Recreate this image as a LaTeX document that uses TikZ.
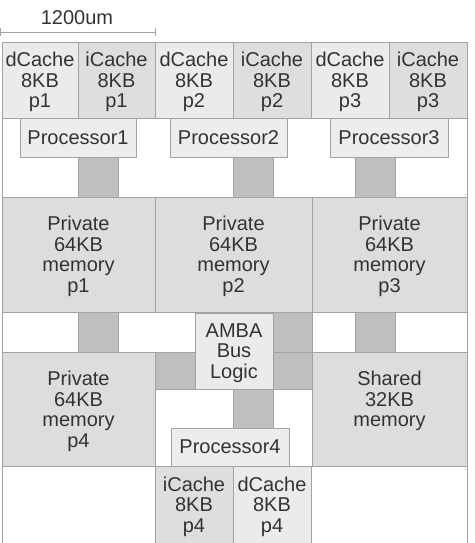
\documentclass[tikz,border=0pt]{standalone}
\usepackage{fontspec}
\usepackage{tikz}
\newfontfamily\blkfont{Liberation Sans}
\definecolor{blkline}{HTML}{A2A3A4}
\definecolor{dcfill}{HTML}{EAEBEB}
\definecolor{icfill}{HTML}{DDDEDF}
\definecolor{prfill}{HTML}{EDEDED}
\definecolor{memfill}{HTML}{DCDDDE}
\definecolor{busfill}{HTML}{BEBFC0}
\definecolor{blktext}{HTML}{333333}
\tikzset{blk/.style={draw=blkline,line width=0.9pt,inner sep=0pt,outer sep=0pt,
        align=center,text=blktext,font={\blkfont\fontsize{20}{20.5}\selectfont}},
    dcache/.style={blk,fill=dcfill,minimum height=76pt,text depth=-9pt},
    icache/.style={blk,fill=icfill,minimum height=76pt,text depth=-9pt},
    proc/.style={blk,fill=prfill,minimum height=39pt},
    mem/.style={blk,fill=memfill,text depth=-7pt},
    bus/.style={draw=blkline,line width=0.9pt,fill=busfill}
}

\begin{document}
\begin{tikzpicture}[x=1pt,y=-1pt]
           \useasboundingbox (0,0) rectangle (474,543);
           % scale bar
           \draw[blkline,line width=0.9pt] (0,28) -- (0,36) (0,32) -- (155,32) (155,28) -- (155,36);
           \node[text=blktext,font={\blkfont\fontsize{20}{20.5}\selectfont}] (scale) at (77,18) {1200um};
           \draw[blkline,line width=0.9pt] (2,543) -- (2,42) -- (467,42) -- (467,543);
           % caches of p1..p3
           \node[dcache,minimum width=76pt] (dc1) at (40,80) {dCache\\8KB\\p1};
           \node[icache,minimum width=77pt] (ic1) at (116.5,80) {iCache\\8KB\\p1};
           \node[dcache,minimum width=78pt] (dc2) at (194,80) {dCache\\8KB\\p2};
           \node[icache,minimum width=78pt] (ic2) at (272,80) {iCache\\8KB\\p2};
           \node[dcache,minimum width=78pt] (dc3) at (350,80) {dCache\\8KB\\p3};
           \node[icache,minimum width=78pt] (ic3) at (428,80) {iCache\\8KB\\p3};
           \node[proc,minimum width=116pt] (pr1) at (78,137.5) {Processor1};
           \node[proc,minimum width=117pt] (pr2) at (228.5,137.5) {Processor2};
           \node[proc,minimum width=118pt] (pr3) at (389,137.5) {Processor3};
           \node[mem,minimum width=153pt,minimum height=115pt] (m1) at (78.5,254.5) {Private\\64KB\\memory\\p1};
           \node[mem,minimum width=157pt,minimum height=115pt] (m2) at (233.5,254.5) {Private\\64KB\\memory\\p2};
           \node[mem,minimum width=155pt,minimum height=115pt] (m3) at (389.5,254.5) {Private\\64KB\\memory\\p3};
           \node[mem,fill=dcfill,text depth=0pt,minimum width=78pt,minimum height=76pt] (amba) at (234,351) {AMBA\\Bus\\Logic};
           \node[mem,minimum width=153pt,minimum height=114pt] (m4) at (78.5,409) {Private\\64KB\\memory\\p4};
           \node[mem,minimum width=155pt,minimum height=114pt] (sh) at (389.5,409) {Shared\\32KB\\memory\\\strut};
           \node[proc,minimum width=118pt,minimum height=38pt] (pr4) at (230,447) {Processor4};
           \node[icache,minimum width=78pt,minimum height=77pt] (ic4) at (194,504.5) {iCache\\8KB\\p4};
           \node[dcache,minimum width=78pt,minimum height=77pt] (dc4) at (272,504.5) {dCache\\8KB\\p4};
           % bus strips
           \draw[bus] (pr1.south) rectangle ([xshift=40pt]pr1.south |- m1.north);
           \draw[bus] (dc2.east |- pr2.south) rectangle ([xshift=40pt]dc2.east |- m2.north);
           \draw[bus] ([xshift=-34pt]pr3.south) rectangle ([xshift=6pt]pr3.south |- m3.north);
           \draw[bus] (ic1.west |- m1.south) rectangle ([xshift=40pt]ic1.west |- m4.north);
           \draw[bus] ([xshift=-34pt]pr3.south |- m3.south) rectangle ([xshift=6pt]pr3.south |- sh.north);
           \draw[bus] (amba.east |- m2.south) rectangle (m2.east |- sh.north);
           \draw[bus] (amba.east |- sh.north) rectangle (sh.west |- amba.south);
           \draw[bus] (m4.north east) rectangle (amba.south west);
           \draw[bus] (dc4.west |- amba.south) rectangle (amba.east |- pr4.north);
\end{tikzpicture}
\end{document}
